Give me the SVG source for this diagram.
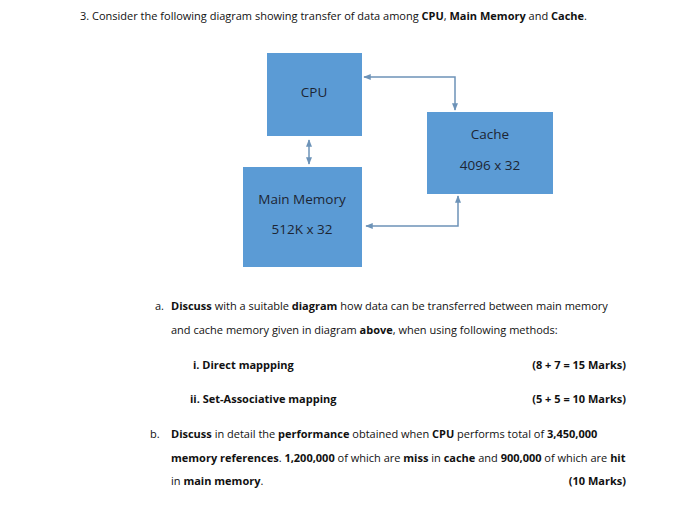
<svg xmlns="http://www.w3.org/2000/svg" width="700" height="516" viewBox="0 0 700 516">
<defs>
<marker id="ah" viewBox="0 0 10 10" refX="9" refY="5" markerWidth="5" markerHeight="5" orient="auto-start-reverse"><path d="M0,1 L10,5 L0,9 z" fill="#6d93b8"/></marker>
<style>
.t{font-family:"Open Sans","Liberation Sans",sans-serif;font-size:11px;fill:#111}
.b{font-weight:bold}
.n{fill:#5b9bd5}
.nl{font-family:"Open Sans","Liberation Sans",sans-serif;font-size:13.5px;fill:#1d2533;text-anchor:middle}
.c{fill:none;stroke:#6d93b8;stroke-width:1.5;marker-start:url(#ah);marker-end:url(#ah)}
</style>
</defs>
<rect width="700" height="516" fill="#fff"/>
<text class="t" x="80" y="20">3.  Consider the following diagram showing transfer of data among <tspan class="b">CPU</tspan>, <tspan class="b">Main Memory</tspan> and <tspan class="b">Cache</tspan>.</text>
<g id="cpu"><rect class="n" x="267" y="53" width="95" height="83"/><text class="nl" x="314" y="97">CPU</text></g>
<g id="cache"><rect class="n" x="427" y="112" width="126" height="82"/><text class="nl" x="490" y="139">Cache</text><text class="nl" x="490" y="170">4096 x 32</text></g>
<g id="mem"><rect class="n" x="243" y="167" width="119" height="100"/><text class="nl" x="302" y="204">Main Memory</text><text class="nl" x="302" y="234">512K x 32</text></g>
<g id="connectors">
<path class="c" d="M364,77 H455 V110"/>
<path class="c" d="M366,226 H458 V196"/>
<path class="c" d="M309,140 V164"/>
</g>
<text class="t" x="155" y="310">a.</text>
<text class="t b" x="171" y="310">Discuss <tspan font-weight="normal">with a suitable</tspan> diagram <tspan font-weight="normal">how data can be transferred between main memory</tspan></text>
<text class="t" x="171" y="334">and cache memory given in diagram <tspan class="b">above</tspan>, when using following methods:</text>
<text class="t b" x="193" y="369">i.   Direct mappping</text>
<text class="t b" x="626" y="369" text-anchor="end">(8 + 7 = 15 Marks)</text>
<text class="t b" x="190" y="403">ii.   Set-Associative mapping</text>
<text class="t b" x="626" y="403" text-anchor="end">(5 + 5 = 10 Marks)</text>
<text class="t" x="150" y="438">b.</text>
<text class="t" x="171" y="438"><tspan class="b">Discuss</tspan> in detail the <tspan class="b">performance</tspan> obtained when <tspan class="b">CPU</tspan> performs total of <tspan class="b">3,450,000</tspan></text>
<text class="t" x="171" y="462"><tspan class="b">memory references</tspan>. <tspan class="b">1,200,000</tspan> of which are <tspan class="b">miss</tspan> in <tspan class="b">cache</tspan> and <tspan class="b">900,000</tspan> of which are <tspan class="b">hit</tspan></text>
<text class="t" x="171" y="485">in <tspan class="b">main memory</tspan>.</text>
<text class="t b" x="626" y="485" text-anchor="end">(10 Marks)</text>
</svg>
